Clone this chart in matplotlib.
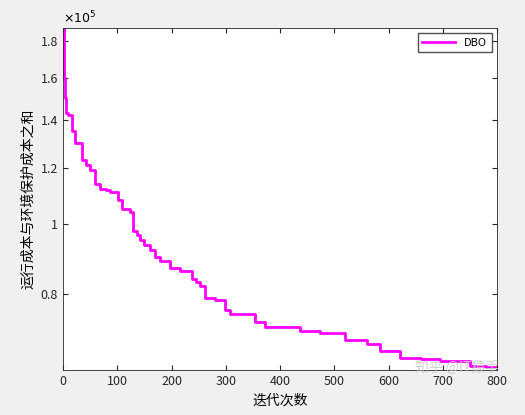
import matplotlib
matplotlib.use("Agg")
import matplotlib.pyplot as plt
from matplotlib.ticker import FixedLocator, FixedFormatter, NullLocator

plt.rcParams['font.family'] = ['Noto Sans CJK SC', 'DejaVu Sans']

# breakpoints of the best-so-far curve (iteration, cost in 1e5)
iters = [0, 1, 2, 3, 5, 10, 16, 22, 35, 42, 50, 59, 68, 80, 87, 101, 109, 124, 129, 136,
         142, 150, 160, 170, 179, 197, 216, 238, 245, 252, 262, 280, 299, 308, 354, 372,
         437, 474, 520, 560, 584, 621, 660, 695, 750, 780, 800]
cost = [1.88, 1.75, 1.60, 1.50, 1.43, 1.42, 1.35, 1.30, 1.23, 1.21, 1.19, 1.14, 1.12, 1.115,
        1.11, 1.08, 1.05, 1.04, 0.98, 0.965, 0.95, 0.935, 0.92, 0.90, 0.89, 0.87, 0.86, 0.84,
        0.83, 0.82, 0.79, 0.785, 0.76, 0.75, 0.73, 0.72, 0.71, 0.705, 0.69, 0.68, 0.665, 0.65,
        0.648, 0.645, 0.635, 0.632, 0.63]

fig = plt.figure(figsize=(5.25, 4.15), dpi=100, facecolor="#f0f0f0")
ax = fig.add_axes([0.12, 0.108, 0.827, 0.825])
ax.plot(iters, [c * 1e5 for c in cost], color="#ff00ff", linewidth=2,
        drawstyle="steps-post", label="DBO")
ax.set_yscale("log")
ax.set_xlim(0, 800)
ax.set_ylim(0.626e5, 1.88e5)
yt = [0.8, 1.0, 1.2, 1.4, 1.6, 1.8]
ax.yaxis.set_major_locator(FixedLocator([v * 1e5 for v in yt]))
ax.yaxis.set_major_formatter(FixedFormatter(["0.8", "1", "1.2", "1.4", "1.6", "1.8"]))
ax.yaxis.set_minor_locator(NullLocator())
ax.set_xticks(range(0, 801, 100))
ax.tick_params(direction="in", top=True, right=True, labelsize=9, colors="#262626")
for s in ax.spines.values():
    s.set_color("#262626")
    s.set_linewidth(0.6)
ax.text(0, 1.005, r"$\times10^5$", transform=ax.transAxes, fontsize=9, va="bottom")
ax.set_xlabel("迭代次数", fontsize=10)
ax.set_ylabel("运行成本与环境保护成本之和", fontsize=10)
ax.legend(loc="upper right", fontsize=8, fancybox=False, edgecolor="#262626",
          handlelength=3)
fig.text(0.79, 0.105, "知乎 @IT猿手", fontsize=10, color="#cccccc", alpha=0.9)
fig.savefig("out.png", facecolor=fig.get_facecolor())
